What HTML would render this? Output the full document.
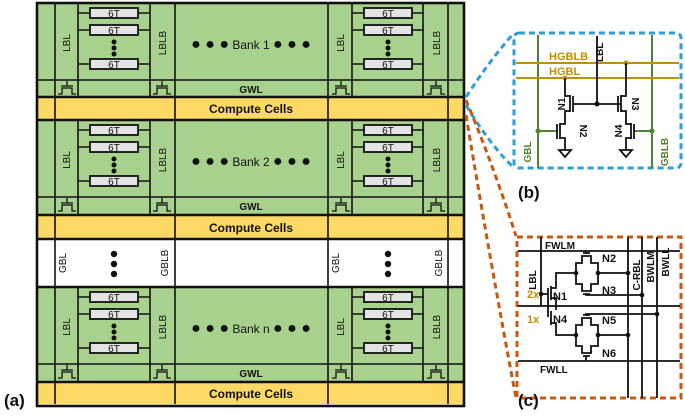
<!DOCTYPE html>
<html><head><meta charset="utf-8"><style>
body{margin:0;background:#fff;}
text{font-family:"Liberation Sans",sans-serif;}
</style></head><body>
<svg width="685" height="411" viewBox="0 0 685 411" xmlns="http://www.w3.org/2000/svg">
<defs>
<g id="cell">
  <line x1="0" y1="5" x2="12" y2="5" stroke="#111" stroke-width="1.5"/>
  <line x1="60" y1="5" x2="72" y2="5" stroke="#111" stroke-width="1.5"/>
  <rect x="12" y="0" width="48" height="10" fill="#e3e3e3" stroke="#111" stroke-width="1.8"/>
  <text x="36" y="8.8" font-size="10" text-anchor="middle" fill="#111">6T</text>
</g>
<g id="tr">
  <path d="M0,13 h4 v-6 h10 v6 h4 M3,5 h12 M9,5 v-5" fill="none" stroke="#111" stroke-width="1.3"/>
</g>
<g id="col">
  <use href="#cell" transform="translate(0,5)"/>
  <use href="#cell" transform="translate(0,22)"/>
  <circle cx="36" cy="39" r="2.5" fill="#111"/>
  <circle cx="36" cy="45" r="2.5" fill="#111"/>
  <circle cx="36" cy="51" r="2.5" fill="#111"/>
  <use href="#cell" transform="translate(0,56)"/>
</g>
<g id="bank">
  <rect x="37" y="0" width="427" height="94" fill="#a9d18e"/>
  <g stroke="#111" stroke-width="1.6">
    <line x1="55" y1="0" x2="55" y2="94"/><line x1="78" y1="0" x2="78" y2="94"/>
    <line x1="150" y1="0" x2="150" y2="94"/><line x1="175" y1="0" x2="175" y2="94"/>
    <line x1="328" y1="0" x2="328" y2="94"/><line x1="352" y1="0" x2="352" y2="94"/>
    <line x1="423" y1="0" x2="423" y2="94"/><line x1="448" y1="0" x2="448" y2="94"/>
    <line x1="37" y1="77" x2="464" y2="77"/>
  </g>
  <use href="#col" transform="translate(78,0)"/>
  <use href="#col" transform="translate(352,0)"/>
  <text transform="translate(70,40) rotate(-90)" font-size="10" text-anchor="middle" fill="#111">LBL</text>
  <text transform="translate(166,40) rotate(-90)" font-size="10" text-anchor="middle" fill="#111">LBLB</text>
  <text transform="translate(344,40) rotate(-90)" font-size="10" text-anchor="middle" fill="#111">LBL</text>
  <text transform="translate(440,40) rotate(-90)" font-size="10" text-anchor="middle" fill="#111">LBLB</text>
  <use href="#tr" transform="translate(58,78)"/>
  <use href="#tr" transform="translate(153,78)"/>
  <use href="#tr" transform="translate(332,78)"/>
  <use href="#tr" transform="translate(427,78)"/>
  <text x="251" y="90" font-size="10" text-anchor="middle" font-weight="bold" fill="#111">GWL</text>
</g>
<g id="comp">
  <rect x="37" y="0" width="427" height="22" fill="#ffd966"/>
  <g stroke="#111" stroke-width="1.6">
    <line x1="55" y1="0" x2="55" y2="22"/><line x1="175" y1="0" x2="175" y2="22"/>
    <line x1="328" y1="0" x2="328" y2="22"/><line x1="448" y1="0" x2="448" y2="22"/>
  </g>
  <text x="251" y="16" font-size="12" font-weight="bold" text-anchor="middle" fill="#111">Compute Cells</text>
</g>
</defs>

<use href="#bank" transform="translate(0,3)"/>
<text x="251" y="49" font-size="12" text-anchor="middle" fill="#111"><tspan font-size="16" font-weight="bold">● ● ●</tspan>  Bank 1  <tspan font-size="16" font-weight="bold">● ● ●</tspan></text>
<use href="#comp" transform="translate(0,97)"/>
<use href="#bank" transform="translate(0,120)"/>
<text x="251" y="166" font-size="12" text-anchor="middle" fill="#111"><tspan font-size="16" font-weight="bold">● ● ●</tspan>  Bank 2  <tspan font-size="16" font-weight="bold">● ● ●</tspan></text>
<use href="#comp" transform="translate(0,216)"/>
<!-- white section -->
<g stroke="#111" stroke-width="1.6">
  <line x1="55" y1="239" x2="55" y2="287"/><line x1="175" y1="239" x2="175" y2="287"/>
  <line x1="328" y1="239" x2="328" y2="287"/><line x1="448" y1="239" x2="448" y2="287"/>
</g>
<text transform="translate(66,263) rotate(-90)" font-size="10" text-anchor="middle" fill="#111">GBL</text>
<text transform="translate(168,263) rotate(-90)" font-size="10" text-anchor="middle" fill="#111">GBLB</text>
<text transform="translate(339,263) rotate(-90)" font-size="10" text-anchor="middle" fill="#111">GBL</text>
<text transform="translate(442,263) rotate(-90)" font-size="10" text-anchor="middle" fill="#111">GBLB</text>
<g fill="#111"><circle cx="114" cy="254" r="3.2"/><circle cx="114" cy="264" r="3.2"/><circle cx="114" cy="274" r="3.2"/>
<circle cx="388" cy="254" r="3.2"/><circle cx="388" cy="264" r="3.2"/><circle cx="388" cy="274" r="3.2"/></g>
<use href="#bank" transform="translate(0,287)"/>
<text x="251" y="333" font-size="12" text-anchor="middle" fill="#111"><tspan font-size="16" font-weight="bold">● ● ●</tspan>  Bank n  <tspan font-size="16" font-weight="bold">● ● ●</tspan></text>
<use href="#comp" transform="translate(0,382)"/>
<!-- thick horizontals -->
<g stroke="#111" stroke-width="2.6">
  <line x1="37" y1="97" x2="464" y2="97"/><line x1="37" y1="120" x2="464" y2="120"/>
  <line x1="37" y1="215" x2="464" y2="215"/><line x1="37" y1="239" x2="464" y2="239"/>
  <line x1="37" y1="287" x2="464" y2="287"/><line x1="37" y1="382" x2="464" y2="382"/>
</g>
<rect x="37" y="3" width="427" height="403" fill="none" stroke="#111" stroke-width="2.6"/>
<text x="4" y="406" font-size="17" font-weight="bold" fill="#111">(a)</text>

<!-- connectors -->
<g fill="none" stroke-width="3" stroke-dasharray="6,4">
  <path d="M466,97 Q490,60 514,33" stroke="#2e9fd6"/>
  <path d="M466,105 Q490,145 514,168" stroke="#2e9fd6"/>
  <path d="M466,100 Q495,170 516,236" stroke="#c55a11"/>
  <path d="M466,115 Q490,260 516,398" stroke="#c55a11"/>
</g>

<!-- panel b -->
<rect x="514" y="33" width="167" height="135" rx="5" fill="none" stroke="#2e9fd6" stroke-width="3" stroke-dasharray="6,4"/>
<g stroke="#548235" stroke-width="2"><line x1="538" y1="35" x2="538" y2="168"/><line x1="652" y1="35" x2="652" y2="168"/>
<line x1="538" y1="131" x2="558" y2="131"/><line x1="652" y1="131" x2="634" y2="131"/></g>
<circle cx="538" cy="131" r="2.5" fill="#548235"/><circle cx="652" cy="131" r="2.5" fill="#548235"/>
<g stroke="#bf9000" stroke-width="2"><line x1="516" y1="63" x2="679" y2="63"/><line x1="516" y1="78" x2="679" y2="78"/></g>
<circle cx="565" cy="78" r="2.5" fill="#bf9000"/><circle cx="626" cy="63" r="2.5" fill="#bf9000"/>
<text x="549" y="60" font-size="11" font-weight="bold" fill="#bf9000">HGBLB</text>
<text x="549" y="75" font-size="11" font-weight="bold" fill="#bf9000">HGBL</text>
<g stroke="#111" stroke-width="1.8" fill="none">
  <line x1="597" y1="36" x2="597" y2="104"/>
  <line x1="573" y1="104" x2="621" y2="104"/>
  <path d="M565,78 V96 H570 M570,95 V112 M573,96 V112 M570,111 H565 V124 H560 M560,123 V139 M557,124 V139 M560,138 H565 V150"/>
  <line x1="557" y1="131" x2="557" y2="131"/>
  <path d="M626,63 V96 H621 M621,95 V112 M618,96 V112 M621,111 H626 V124 H631 M631,123 V139 M634,124 V139 M631,138 H626 V150"/>
  <path d="M559,150 h12 l-6,7 z M620,150 h12 l-6,7 z" fill="none"/>
</g>
<circle cx="597" cy="104" r="2.5" fill="#111"/>
<text x="603" y="62" font-size="10" font-weight="bold" fill="#111" transform="rotate(-90 603 62)">LBL</text>
<text transform="translate(565,104) rotate(-90)" font-size="10" font-weight="bold" text-anchor="middle" fill="#111">N1</text>
<text transform="translate(580,131) rotate(90)" font-size="10" font-weight="bold" text-anchor="middle" fill="#111">N2</text>
<text transform="translate(632,104) rotate(90)" font-size="10" font-weight="bold" text-anchor="middle" fill="#111">N3</text>
<text transform="translate(622,131) rotate(-90)" font-size="10" font-weight="bold" text-anchor="middle" fill="#111">N4</text>
<text transform="translate(531,152) rotate(-90)" font-size="10" font-weight="bold" text-anchor="middle" fill="#548235">GBL</text>
<text transform="translate(668,152) rotate(-90)" font-size="10" font-weight="bold" text-anchor="middle" fill="#548235">GBLB</text>
<text x="518" y="198" font-size="17" font-weight="bold" fill="#111">(b)</text>

<!-- panel c -->
<rect x="517" y="237" width="164" height="161" fill="none" stroke="#c55a11" stroke-width="3" stroke-dasharray="6,4"/>
<g stroke="#111" stroke-width="1.8" fill="none">
  <line x1="518" y1="251" x2="680" y2="251"/>
  <line x1="518" y1="306" x2="680" y2="306"/>
  <line x1="518" y1="361" x2="680" y2="361"/>
  <line x1="541" y1="237" x2="541" y2="306"/>
  <line x1="628" y1="237" x2="628" y2="398"/>
  <line x1="642" y1="237" x2="642" y2="398"/>
  <line x1="657" y1="237" x2="657" y2="398"/>
  <!-- N1/N4 stack -->
  <path d="M541,294 H548 M548,288 V317 M551,286 V300 M551,311 V325 M551,288 H556 V273 H576 M551,298 H556 V310 M551,323 H556 V335 H576"/>
  <!-- upper cell -->
  <path d="M576,273 V263 H582 V256 H591 V263 H598 V273 V284 H591 V291 H582 V284 H576 Z"/>
  <path d="M583,253 H590 M586,253 V251 M583,294 H590 M586,294 V295 H642"/>
  <path d="M598,273 H628"/>
  <!-- lower cell -->
  <path d="M576,335 V325 H582 V318 H591 V325 H598 V335 V346 H591 V353 H582 V346 H576 Z"/>
  <path d="M583,315 H590 M586,315 V314 H657 M583,356 H590 M586,356 V361"/>
  <path d="M598,335 H628"/>
</g>
<g fill="#111"><circle cx="541" cy="294" r="2.3"/><circle cx="576" cy="273" r="2.3"/><circle cx="598" cy="273" r="2.3"/><circle cx="628" cy="273" r="2.3"/><circle cx="642" cy="295" r="2.3"/><circle cx="657" cy="314" r="2.3"/><circle cx="576" cy="335" r="2.3"/><circle cx="598" cy="335" r="2.3"/><circle cx="628" cy="335" r="2.3"/></g>
<text x="545" y="249" font-size="10" font-weight="bold" fill="#111">FWLM</text>
<text x="540" y="373" font-size="10" font-weight="bold" fill="#111">FWLL</text>
<text transform="translate(536,280) rotate(-90)" font-size="10" font-weight="bold" text-anchor="middle" fill="#111">LBL</text>
<text x="527" y="298" font-size="11" font-weight="bold" fill="#bf9000">2x</text>
<text x="527" y="323" font-size="11" font-weight="bold" fill="#bf9000">1x</text>
<text x="553" y="300" font-size="11" font-weight="bold" fill="#111">N1</text>
<text x="553" y="323" font-size="11" font-weight="bold" fill="#111">N4</text>
<text x="602" y="262" font-size="11" font-weight="bold" fill="#111">N2</text>
<text x="602" y="294" font-size="11" font-weight="bold" fill="#111">N3</text>
<text x="602" y="324" font-size="11" font-weight="bold" fill="#111">N5</text>
<text x="602" y="357" font-size="11" font-weight="bold" fill="#111">N6</text>
<text transform="translate(640,275) rotate(-90)" font-size="10" font-weight="bold" text-anchor="middle" fill="#111">C-RBL</text>
<text transform="translate(654,267) rotate(-90)" font-size="10" font-weight="bold" text-anchor="middle" fill="#111">BWLM</text>
<text transform="translate(669,262) rotate(-90)" font-size="10" font-weight="bold" text-anchor="middle" fill="#111">BWLL</text>
<text x="518" y="406" font-size="17" font-weight="bold" fill="#111">(c)</text>
</svg>
</body></html>
